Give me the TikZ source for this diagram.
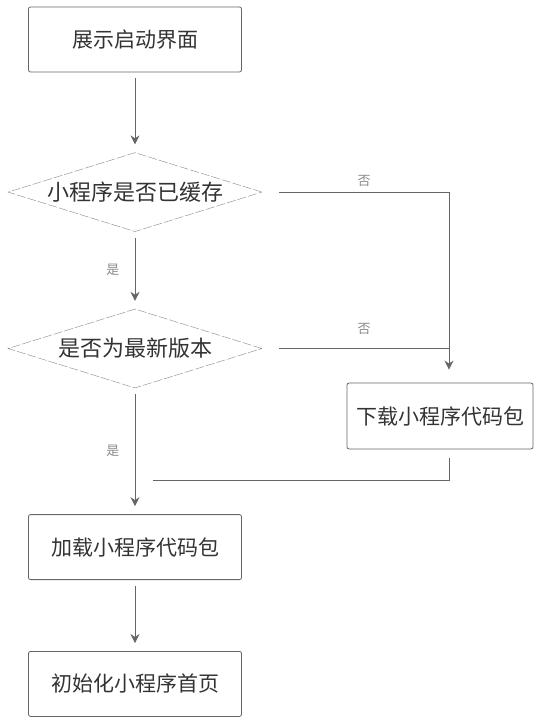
\documentclass[tikz,border=0pt]{standalone}
\usepackage{fontspec}
\newfontfamily\cjk{Noto Sans CJK SC}
\usepackage{tikz}
\usetikzlibrary{arrows.meta,positioning,shapes.geometric}
\definecolor{Edge}{HTML}{666666}
\definecolor{Ink}{HTML}{333333}
\definecolor{Soft}{HTML}{8A8A8A}
\tikzset{
  stepbox/.style={rectangle, rounded corners=2pt, draw=Edge, thick,
    minimum width=213pt, minimum height=65pt, align=center, text=Ink,
    font=\cjk\fontsize{21}{25}\selectfont},
  check/.style={diamond, aspect=3.2, draw=Edge!80, dash pattern=on 9pt off 2pt,
    inner sep=0pt, minimum width=254pt, minimum height=79pt, text=Ink,
    font=\cjk\fontsize{22}{26}\selectfont},
  arrow/.style={-{Stealth[length=9pt,width=9pt]}, thick, draw=Edge,
    shorten <=6pt, shorten >=8pt},
  line/.style={draw=Edge, thick},
  tag/.style={text=Soft, font=\cjk\fontsize{13}{15}\selectfont}
}
\begin{document}
\begin{tikzpicture}[x=1pt, y=-1pt]
  \useasboundingbox (0,0) rectangle (539,720);
  \node[stepbox] (start) at (135,39.5) {展示启动界面};
  \node[check, below=80pt of start] (cached) {小程序是否已缓存};
  \node[check, below=77pt of cached] (latest) {是否为最新版本};
  \node[stepbox, below=126pt of latest] (load) {加载小程序代码包};
  \node[stepbox, below=71pt of load] (home) {初始化小程序首页};
  \node[stepbox, minimum width=186pt, minimum height=66pt] (download) at (440,416) {下载小程序代码包};
  \coordinate (bend) at (449,192);
  \coordinate (merge) at (153,480);

  \draw[arrow] (start) -- (cached);
  \draw[arrow] (cached) -- node[tag, left=12pt] (yes1) {是} (latest);
  \draw[arrow] (latest) -- node[tag, left=12pt] (yes2) {是} (load);
  \draw[arrow] (load) -- (home);
  \draw[arrow, shorten <=0pt, shorten >=13pt] ([xshift=17pt]cached.east) -| node[tag, pos=0.25, above=2pt] (no1) {否} (bend |- download.north);
  \draw[line] ([xshift=17pt]latest.east) -- node[tag, above=10pt] (no2) {否} (bend |- latest.east);
  \draw[line, shorten <=9pt] (bend |- download.south) |- (merge);
\end{tikzpicture}
\end{document}
